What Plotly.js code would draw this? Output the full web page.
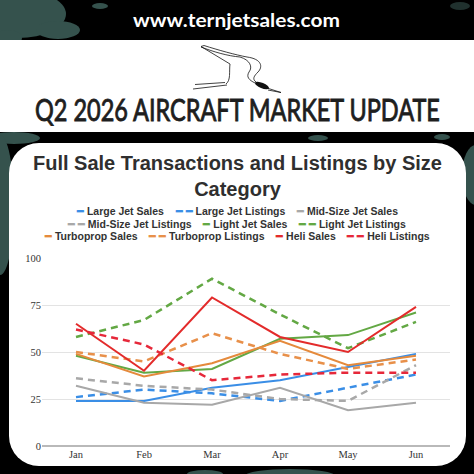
<!DOCTYPE html>
<html>
<head>
<meta charset="utf-8">
<script src="https://cdn.plot.ly/plotly-3.0.1.min.js"></script>
<style>
html,body{margin:0;padding:0;background:#000;width:474px;height:474px;overflow:hidden}
#deco{position:absolute;left:0;top:0}
#panel{position:absolute;left:9px;top:143px;width:457px;height:323px;background:#fff;border-radius:30px}
#chart{position:absolute;left:0;top:0;width:474px;height:474px}
</style>
</head>
<body>
<svg id="deco" width="474" height="474" xmlns="http://www.w3.org/2000/svg">
  <g fill="#35524d">
    <ellipse cx="18" cy="14" rx="48" ry="24"/>
    <ellipse cx="58" cy="30" rx="22" ry="9"/>
    <ellipse cx="8" cy="38" rx="14" ry="8"/>
    <ellipse cx="100" cy="6" rx="8" ry="3"/>
    <ellipse cx="460" cy="6" rx="10" ry="4" opacity="0.6"/>
    <ellipse cx="14" cy="138" rx="26" ry="6"/>
    <ellipse cx="318" cy="138" rx="10" ry="3"/>
    <ellipse cx="442" cy="137" rx="8" ry="3"/>
    <ellipse cx="0" cy="205" rx="14" ry="70"/>
    <ellipse cx="476" cy="175" rx="14" ry="30"/>
    <ellipse cx="290" cy="476" rx="45" ry="7"/>
    <ellipse cx="205" cy="474" rx="18" ry="4"/>
  </g>
  <rect x="0" y="40" width="474" height="92" fill="#fff"/>
  <text id="site" x="0" y="0" font-family="Lato, 'Noto Sans', sans-serif" font-weight="bold" font-size="19" fill="#fff">www.ternjetsales.com</text>
  <g fill="none" stroke="#111" stroke-width="0.8">
    <path d="M195,84.5 L225,82.5"/>
    <path d="M193,89 L227,85"/>
    <path d="M226,84 C231,80 229,72 230,64 L201,46.5 L204,45.5 C218,50 236,55 247,57 C262,59 263,67 258,72 C254,76 252,79 256,82"/>
    <path d="M201,47 C214,52 228,56 240,57 C250,60 253,67 249,72 C246,77 249,80 255,83"/>
  </g>
  <ellipse cx="262" cy="85.5" rx="7.5" ry="2.6" fill="#111" transform="rotate(22 262 85.5)"/>
  <path d="M267,88 L281,92.5 L268,90" fill="none" stroke="#111" stroke-width="0.8"/>
  <text id="headline" x="0" y="0" font-family="Lato, 'Noto Sans', sans-serif" font-weight="normal" font-size="26" fill="#1e1e1e" stroke="#1e1e1e" stroke-width="0.7">Q2 2026 AIRCRAFT MARKET UPDATE</text>
</svg>
<div id="panel"></div>
<div id="chart"></div>
<script>
// ---- data ----
const months = ['Jan', 'Feb', 'Mar', 'Apr', 'May', 'Jun'];
const largeJetSales     = [24, 24, 31, 35, 42, 49];
const largeJetListings  = [26, 30, 28, 24, 31, 38];
const midSizeSales      = [32, 23, 22, 31, 19, 23];
const midSizeListings   = [36, 32, 30, 25, 24, 43];
const lightJetSales     = [48, 39, 41, 57, 59, 71];
const lightJetListings  = [58, 67, 89, 70, 52, 66];
const turbopropSales    = [49, 37, 44, 56, 43, 48];
const turbopropListings = [50, 45, 60, 49, 41, 46];
const heliSales         = [65, 40, 79, 58, 50, 74];
const heliListings      = [62, 54, 35, 38, 39, 39];
const yTicks = [0, 25, 50, 75, 100];

const seriesNames = ['Large Jet Sales', 'Large Jet Listings', 'Mid-Size Jet Sales', 'Mid-Size Jet Listings',
  'Light Jet Sales', 'Light Jet Listings', 'Turboprop Sales', 'Turboprop Listings', 'Heli Sales', 'Heli Listings'];
const seriesValues = [largeJetSales, largeJetListings, midSizeSales, midSizeListings,
  lightJetSales, lightJetListings, turbopropSales, turbopropListings, heliSales, heliListings];
const seriesColors = ['#3a8ee6', '#3a8ee6', '#a8a8a8', '#a8a8a8', '#63a844', '#63a844',
  '#e58a3c', '#e8904a', '#e32b2b', '#e6283a'];
const seriesDashed = [false, true, false, true, false, true, false, true, false, true];
const legendRows = [[0, 1, 2], [3, 4, 5], [6, 7, 8, 9]];

// ---- header text fitting (width and cap height) ----
function fitText(id, left, baseline, targetW, targetCap, capRatio) {
  const el = document.getElementById(id);
  const fs0 = parseFloat(el.getAttribute('font-size'));
  const w0 = el.getComputedTextLength();
  const fs = fs0 * targetW / w0;
  el.setAttribute('font-size', fs.toFixed(2));
  const sy = targetCap / (fs * capRatio);
  el.setAttribute('transform', 'translate(' + left + ',' + baseline + ') scale(1,' + sy.toFixed(3) + ')');
}
fitText('site', 133, 27, 207, 13.5, 0.72);
fitText('headline', 35, 120.5, 405, 22, 0.72);

// ---- geometry helpers (pixel -> paper) ----
const L = 42, R = 24, T = 258, B = 28, W = 474, H = 474;
const pw = W - L - R, ph = H - T - B;
const px = x => (x - L) / pw;
const py = y => (H - B - y) / ph;

const traces = seriesNames.map((n, i) => ({
  type: 'scatter', mode: 'lines', name: n, x: months, y: seriesValues[i],
  line: {color: seriesColors[i], width: seriesDashed[i] ? 2.5 : 2, dash: seriesDashed[i] ? '7px,5px' : 'solid'},
  showlegend: false, hoverinfo: 'skip'
}));

const sp = '\u00A0\u00A0\u00A0\u00A0';
const legendTexts = legendRows.map(row => row.map(i =>
  '<span style="color:' + seriesColors[i] + '">' + (seriesDashed[i] ? '\u2501 \u2501' : '\u2501') + '</span> ' + seriesNames[i]
).join(sp));
const legendY = [211, 223.5, 236];

const annotations = [{
  text: '<b>Full Sale Transactions and Listings by Size<br>Category</b>',
  xref: 'paper', yref: 'paper', x: px(237), y: py(176), xanchor: 'center', yanchor: 'middle', showarrow: false,
  font: {family: 'Liberation Sans, Arial, sans-serif', size: 20, color: '#2f2f2f'}
}];

legendTexts.forEach((t, k) => annotations.push({
  text: '<b>' + t + '</b>', xref: 'paper', yref: 'paper', x: px(236.5), y: py(legendY[k]),
  xanchor: 'center', yanchor: 'middle', showarrow: false,
  font: {family: 'Liberation Sans, Arial, sans-serif', size: 10.5, color: '#333'}
}));

const tickFont = {family: 'Liberation Serif, Times New Roman, serif', size: 10.5, color: '#333'};
const layout = {
  width: W, height: H,
  margin: {l: L, r: R, t: T, b: B, pad: 0},
  paper_bgcolor: 'rgba(0,0,0,0)', plot_bgcolor: 'rgba(0,0,0,0)',
  showlegend: false,
  xaxis: {type: 'category', range: [-0.5, months.length - 0.5], showgrid: false, zeroline: false, showline: false,
    ticks: '', tickfont: tickFont},
  yaxis: {range: [0, 100], tickvals: yTicks, ticktext: yTicks.map(String), showgrid: true, gridcolor: '#e3e3e3', gridwidth: 1,
    zeroline: true, zerolinecolor: '#b9b9b9', zerolinewidth: 2, showline: false, ticks: '', tickfont: tickFont},
  annotations: annotations
};

Plotly.newPlot('chart', traces, layout, {displayModeBar: false, staticPlot: true});
</script>
</body>
</html>
